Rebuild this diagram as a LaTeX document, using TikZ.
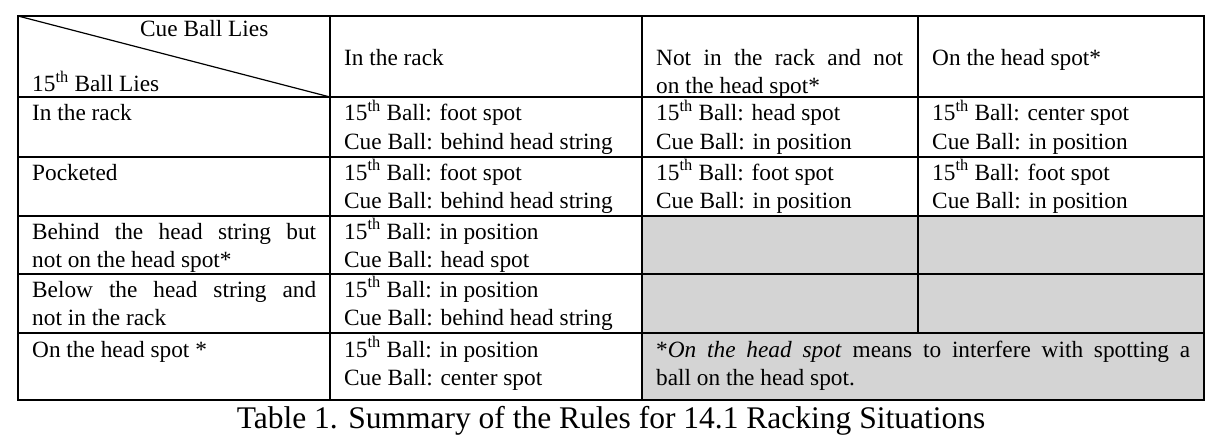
\documentclass[tikz,border=0pt]{standalone}
\usepackage{fontspec}
\setmainfont{Liberation Serif}
\begin{document}
\begin{tikzpicture}[x=1pt,y=-1pt,
  txt/.style={anchor=base west,inner sep=0pt,font=\fontsize{23.3}{26}\selectfont},
  grid/.style={line width=1.2pt,black}]
\useasboundingbox (0,0) rectangle (1224,436);
\fill[white] (0,0) rectangle (1224,436);
\fill[black!17] (642,216) rectangle (1204,400);
\draw[grid] (18,16) rectangle (1204,400);
\foreach \y in {97,157,216,274,333}{\draw[grid] (18,\y) -- (1204,\y);}
\draw[grid] (330,16) -- (330,400);
\draw[grid] (642,16) -- (642,400);
\draw[grid] (918,16) -- (918,333);
\draw[grid] (18,16) -- (330,97);
\def\fb{15\textsuperscript{th} Ball: }
% header
\node[txt] (h1) at (140,37) {Cue Ball Lies};
\node[txt] (h2) at (32,92) {15\textsuperscript{th} Ball Lies};
\node[txt] (c2) at (344,66) {In the rack};
\node[txt] (c3a) at (656,66) {\hbox to 247pt{Not\hfill in\hfill the\hfill rack\hfill and\hfill not}};
\node[txt] (c3b) at (656,94) {on the head spot*};
\node[txt] (c4) at (932,66) {On the head spot*};
% row 2
\node[txt] (r2) at (32,121) {In the rack};
\node[txt] (r2a) at (344,121) {\fb foot spot};
\node[txt] (r2b) at (344,149) {Cue Ball: behind head string};
\node[txt] (r2c) at (656,121) {\fb head spot};
\node[txt] (r2d) at (656,149) {Cue Ball: in position};
\node[txt] (r2e) at (932,121) {\fb center spot};
\node[txt] (r2f) at (932,149) {Cue Ball: in position};
% row 3
\node[txt] (r3) at (32,180) {Pocketed};
\node[txt] (r3a) at (344,180) {\fb foot spot};
\node[txt] (r3b) at (344,208) {Cue Ball: behind head string};
\node[txt] (r3c) at (656,180) {\fb foot spot};
\node[txt] (r3d) at (656,208) {Cue Ball: in position};
\node[txt] (r3e) at (932,180) {\fb foot spot};
\node[txt] (r3f) at (932,208) {Cue Ball: in position};
% row 4
\node[txt] (r4) at (32,239) {\hbox to 284pt{Behind\hfill the\hfill head\hfill string\hfill but}};
\node[txt] (r4b) at (32,267) {not on the head spot*};
\node[txt] (r4c) at (344,239) {\fb in position};
\node[txt] (r4d) at (344,267) {Cue Ball: head spot};
% row 5
\node[txt] (r5) at (32,297) {\hbox to 284pt{Below\hfill the\hfill head\hfill string\hfill and}};
\node[txt] (r5b) at (32,325) {not in the rack};
\node[txt] (r5c) at (344,297) {\fb in position};
\node[txt] (r5d) at (344,325) {Cue Ball: behind head string};
% row 6
\node[txt] (r6) at (32,357) {On the head spot *};
\node[txt] (r6c) at (344,357) {\fb in position};
\node[txt] (r6d) at (344,385) {Cue Ball: center spot};
\node[txt] (f1) at (656,357) {\hbox to 534pt{*\textit{On}\hfill\textit{the}\hfill\textit{head}\hfill\textit{spot}\hfill means\hfill to\hfill interfere\hfill with\hfill spotting\hfill a}};
\node[txt] (f2) at (656,385) {ball on the head spot.};
% caption
\node[anchor=base,inner sep=0pt,font=\fontsize{31.5}{34}\selectfont] (cap) at (611,428) {Table 1. Summary of the Rules for 14.1 Racking Situations};
\end{tikzpicture}
\end{document}
